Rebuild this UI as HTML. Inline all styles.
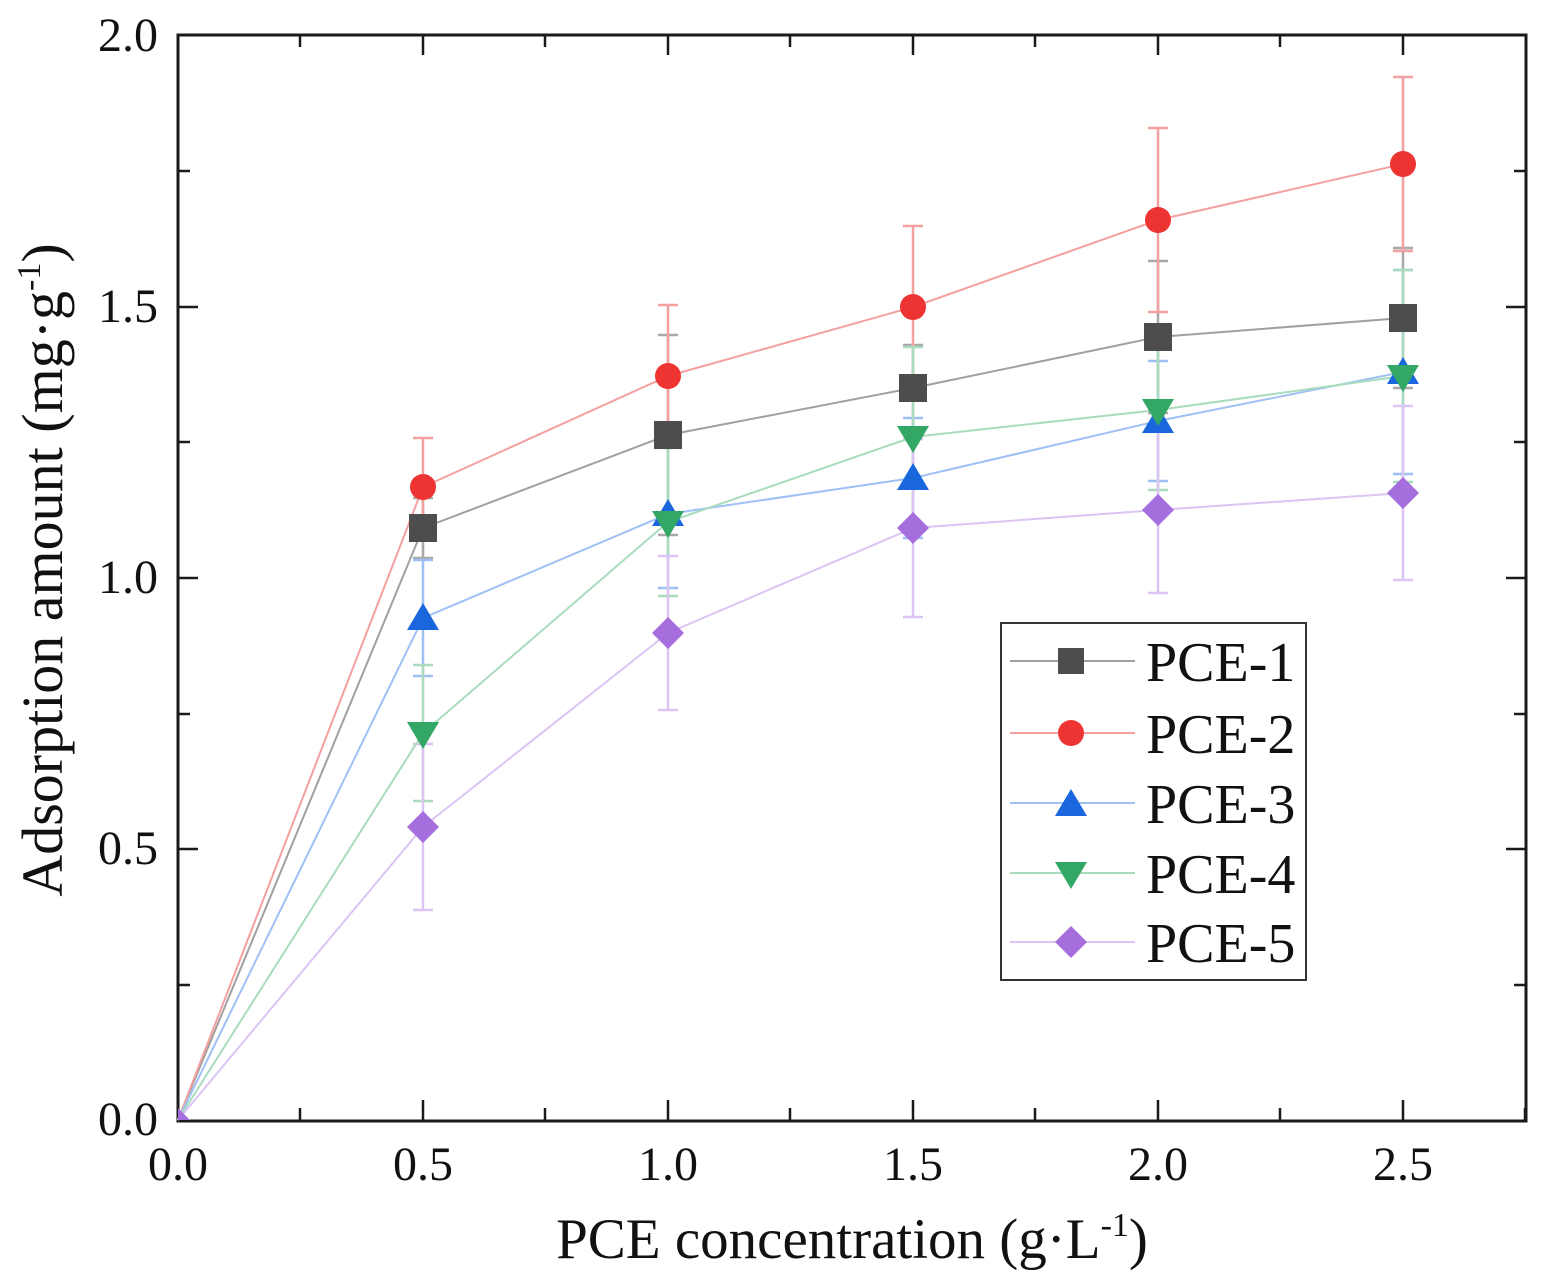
<!DOCTYPE html>
<html><head><style>body{margin:0;background:#fff}svg{display:block}</style></head><body>
<svg width="1548" height="1281" xmlns="http://www.w3.org/2000/svg" font-family="Liberation Serif, serif">
<rect width="1548" height="1281" fill="#fff"/>
<g stroke="#1a1a1a" stroke-width="2.5">
<path d="M178 1120v-20M423 1120v-20M668 1120v-20M913 1120v-20M1158 1120v-20M1403 1120v-20M300 1120v-12M545 1120v-12M790 1120v-12M1035 1120v-12M1280 1120v-12M1525 1120v-12"/>
<path d="M178 35v20M423 35v20M668 35v20M913 35v20M1158 35v20M1403 35v20M300 35v12M545 35v12M790 35v12M1035 35v12M1280 35v12"/>
<path d="M178 849h20M178 578h20M178 307h20M178 985h12M178 714h12M178 442h12M178 171h12"/>
<path d="M1526 849h-20M1526 578h-20M1526 307h-20M1526 985h-12M1526 714h-12M1526 442h-12M1526 171h-12"/>
</g>
<rect x="178" y="35" width="1348" height="1086" fill="none" stroke="#1a1a1a" stroke-width="3"/>
<g font-size="48" fill="#111" text-anchor="end">
<text x="158" y="1135">0.0</text><text x="158" y="864">0.5</text><text x="158" y="593">1.0</text><text x="158" y="322">1.5</text><text x="158" y="51">2.0</text>
</g>
<g font-size="48" fill="#111" text-anchor="middle">
<text x="178" y="1180">0.0</text><text x="423" y="1180">0.5</text><text x="668" y="1180">1.0</text><text x="913" y="1180">1.5</text><text x="1158" y="1180">2.0</text><text x="1403" y="1180">2.5</text>
</g>
<text x="852" y="1258" font-size="57" text-anchor="middle" fill="#111">PCE concentration (g·L<tspan font-size="34" dy="-22">-1</tspan><tspan dy="22">)</tspan></text>
<text transform="translate(62,570) rotate(-90)" font-size="58" text-anchor="middle" fill="#111">Adsorption amount (mg·g<tspan font-size="34" dy="-22">-1</tspan><tspan dy="22">)</tspan></text>

<g stroke-width="2.5" fill="none">
<g stroke="#a8a8a8"><path d="M423 498v60M413 498h20M413 558h20M668 335v200M658 335h20M658 535h20M913 345v86M903 345h20M903 431h20M1158 261v152M1148 261h20M1148 413h20M1403 248v140M1393 248h20M1393 388h20"/></g>
<g stroke="#f4a0a0"><path d="M423 438v98M413 438h20M413 536h20M668 305v142M658 305h20M658 447h20M913 226v162M903 226h20M903 388h20M1158 128v184M1148 128h20M1148 312h20M1403 77v174M1393 77h20M1393 251h20"/></g>
<g stroke="#9ec0f4"><path d="M423 560v116M413 560h20M413 676h20M668 440v148M658 440h20M658 588h20M913 418v120M903 418h20M903 538h20M1158 361v120M1148 361h20M1148 481h20M1403 270v204M1393 270h20M1393 474h20"/></g>
<g stroke="#a8dcbc"><path d="M423 665v136M413 665h20M413 801h20M668 448v148M658 448h20M658 596h20M913 347v180M903 347h20M903 527h20M1158 330v160M1148 330h20M1148 490h20M1403 270v212M1393 270h20M1393 482h20"/></g>
<g stroke="#dcc4f4"><path d="M423 744v166M413 744h20M413 910h20M668 556v154M658 556h20M658 710h20M913 439v178M903 439h20M903 617h20M1158 427v166M1148 427h20M1148 593h20M1403 406v174M1393 406h20M1393 580h20"/></g>
</g>
<g fill="none" stroke-width="2">
<polyline stroke="#a0a0a0" points="178,1120 423,528 668,435 913,388 1158,337 1403,318"/>
<polyline stroke="#f4a0a0" points="178,1120 423,487 668,376 913,307 1158,220 1403,164"/>
<polyline stroke="#9ec0f4" points="178,1120 423,618 668,514 913,478 1158,421 1403,372"/>
<polyline stroke="#a8dcbc" points="178,1120 423,733 668,522 913,437 1158,410 1403,376"/>
<polyline stroke="#dcc4f4" points="178,1120 423,827 668,633 913,528 1158,510 1403,493"/>
</g>
<g fill="#4d4d4d"><rect x="409" y="514" width="28" height="28"/><rect x="654" y="421" width="28" height="28"/><rect x="899" y="374" width="28" height="28"/><rect x="1144" y="323" width="28" height="28"/><rect x="1389" y="304" width="28" height="28"/></g>
<g fill="#ee3333"><circle cx="423" cy="487" r="13"/><circle cx="668" cy="376" r="13"/><circle cx="913" cy="307" r="13"/><circle cx="1158" cy="220" r="13"/><circle cx="1403" cy="164" r="13"/></g>
<g fill="#1a66dd"><path d="M423 603l16 27h-32zM668 499l16 27h-32zM913 463l16 27h-32zM1158 406l16 27h-32zM1403 357l16 27h-32z"/></g>
<g fill="#33a866"><path d="M407 722h32l-16 27zM652 511h32l-16 27zM897 426h32l-16 27zM1142 399h32l-16 27zM1387 365h32l-16 27z"/></g>
<g fill="#a66ddd"><path d="M423 811l16 16-16 16-16-16zM668 617l16 16-16 16-16-16zM913 512l16 16-16 16-16-16zM1158 494l16 16-16 16-16-16zM1403 477l16 16-16 16-16-16z"/></g>
<path d="M178 1108l12 12h-12z" fill="#a66ddd"/>
<rect x="1001" y="623" width="305" height="357" fill="#fff" stroke="#333" stroke-width="2"/>
<g stroke-width="2"><path d="M1010 661h125" stroke="#a0a0a0"/><path d="M1010 733h125" stroke="#f4a0a0"/><path d="M1010 803h125" stroke="#9ec0f4"/><path d="M1010 873h125" stroke="#a8dcbc"/><path d="M1010 942h125" stroke="#dcc4f4"/></g>
<rect x="1058" y="648" width="26" height="26" fill="#4d4d4d"/>
<circle cx="1071" cy="733" r="13" fill="#ee3333"/>
<path d="M1071 789l16 27h-32z" fill="#1a66dd"/>
<path d="M1055 862h32l-16 27z" fill="#33a866"/>
<path d="M1071 926l16 16-16 16-16-16z" fill="#a66ddd"/>
<g font-size="56" fill="#111"><text x="1146" y="681">PCE-1</text><text x="1146" y="753">PCE-2</text><text x="1146" y="823">PCE-3</text><text x="1146" y="893">PCE-4</text><text x="1146" y="962">PCE-5</text></g>
</svg>
</body></html>
